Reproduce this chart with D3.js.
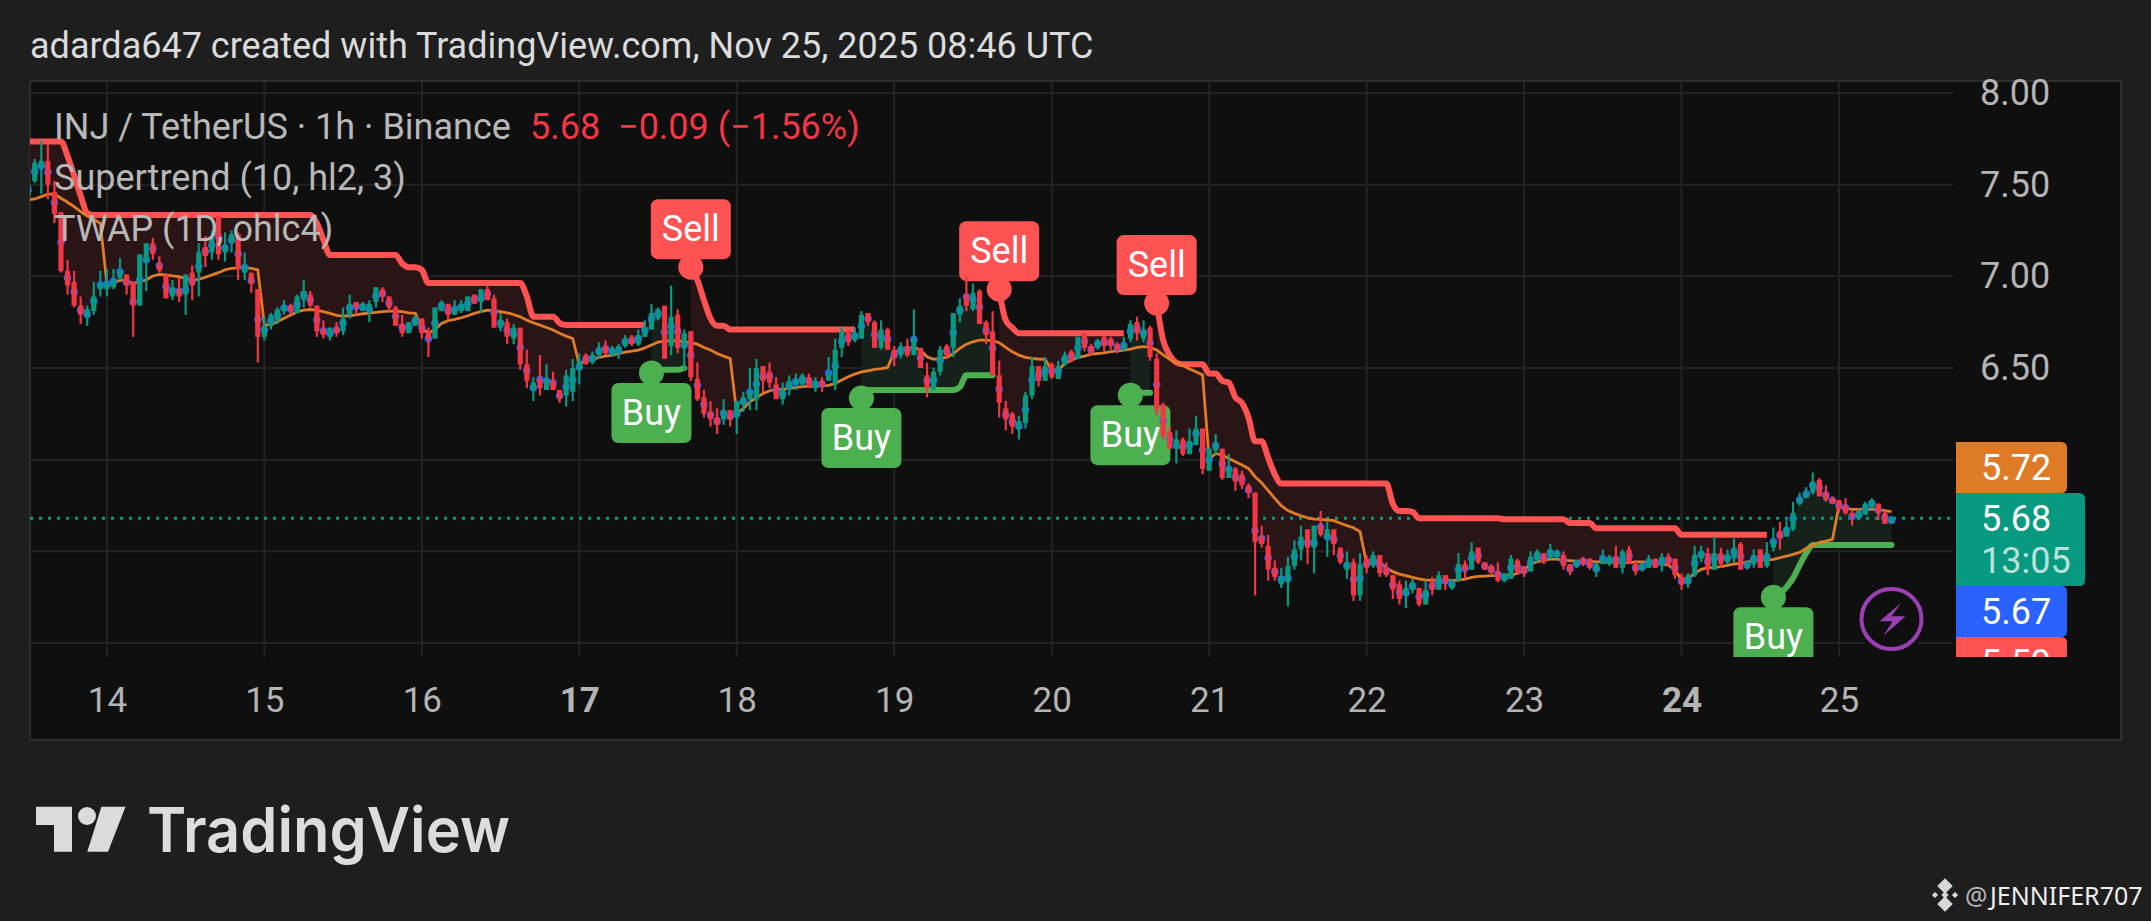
<!DOCTYPE html>
<html><head><meta charset="utf-8">
<script src="https://cdn.jsdelivr.net/npm/d3@7/dist/d3.min.js"></script>
<style>html,body{margin:0;padding:0;background:#1e1e1e}svg{display:block}text{font-family:Roboto,sans-serif}</style>
</head><body><svg id="c" width="2151" height="921"></svg>
<script>
// hourly bars, hour 0 = Nov 14 00:00 UTC, first bar at hour -12
const firstHour = -12;
const opens = [7.44,7.52,7.59,7.63,7.46,7.35,7.03,6.97,6.84,6.78,6.81,6.93,
6.93,6.94,6.99,7.01,6.97,6.84,7.08,7.18,7.07,7.01,
6.89,6.93,6.90,7.02,7.02,7.16,7.13,7.33,7.13,7.18,
7.23,7.02,7.02,6.93,6.67,6.73,6.76,6.81,6.84,6.80,
6.87,6.90,6.84,6.71,6.67,6.72,6.70,6.79,6.86,6.81,
6.81,6.86,6.93,6.89,6.83,6.74,6.69,6.73,6.77,6.70,
6.66,6.81,6.85,6.79,6.81,6.81,6.90,6.86,6.93,6.88,
6.72,6.75,6.66,6.72,6.52,6.38,6.44,6.38,6.43,6.38,
6.35,6.37,6.49,6.57,6.53,6.57,6.62,6.57,6.58,6.62,
6.67,6.63,6.67,6.71,6.77,6.84,6.62,6.79,6.61,6.70,
6.44,6.34,6.26,6.23,6.22,6.27,6.23,6.30,6.33,6.33,
6.51,6.48,6.41,6.33,6.38,6.41,6.41,6.45,6.39,6.43,
6.43,6.41,6.61,6.69,6.65,6.66,6.80,6.75,6.61,6.71,
6.60,6.57,6.62,6.57,6.61,6.46,6.38,6.48,6.62,6.61,
6.79,6.90,6.82,6.92,6.75,6.70,6.46,6.28,6.25,6.17,
6.20,6.35,6.51,6.43,6.52,6.44,6.52,6.59,6.55,6.69,
6.62,6.61,6.67,6.66,6.63,6.60,6.66,6.75,6.66,6.72,
6.55,6.30,6.15,6.06,6.11,6.03,6.08,6.17,5.94,6.05,
6.06,5.90,5.95,5.92,5.86,5.82,5.58,5.53,5.41,5.32,
5.33,5.42,5.51,5.62,5.52,5.64,5.57,5.62,5.52,5.40,
5.44,5.26,5.46,5.42,5.48,5.41,5.37,5.32,5.26,5.29,
5.30,5.21,5.33,5.29,5.37,5.30,5.34,5.43,5.40,5.52,
5.44,5.42,5.39,5.34,5.35,5.45,5.42,5.39,5.45,5.49,
5.46,5.47,5.48,5.43,5.42,5.46,5.46,5.39,5.43,5.43,
5.47,5.41,5.51,5.43,5.40,5.41,5.46,5.42,5.47,5.46,
5.36,5.32,5.37,5.46,5.49,5.40,5.49,5.44,5.46,5.54,
5.41,5.43,5.51,5.42,5.52,5.61,5.58,5.62,5.76,5.79,
5.82,5.89,5.82,5.79,5.78,5.75,5.71,5.68,5.70,5.74,
5.76,5.71,5.66];
const highs = [7.53,7.64,7.74,7.72,7.52,7.35,7.09,7.03,6.89,6.84,6.97,7.03,
7.04,7.04,7.10,7.01,6.97,7.12,7.18,7.21,7.11,7.01,
6.98,6.99,7.01,7.06,7.18,7.22,7.25,7.33,7.24,7.25,
7.24,7.13,7.02,6.93,6.78,6.80,6.83,6.87,6.85,6.90,
6.98,6.92,6.84,6.76,6.72,6.75,6.83,6.90,6.86,6.86,
6.87,6.94,6.94,6.89,6.84,6.79,6.75,6.78,6.77,6.72,
6.83,6.87,6.85,6.87,6.87,6.89,6.90,6.93,6.95,6.90,
6.80,6.77,6.74,6.72,6.60,6.45,6.57,6.52,6.48,6.38,
6.49,6.55,6.58,6.58,6.59,6.64,6.65,6.62,6.63,6.68,
6.68,6.71,6.76,6.85,6.83,6.84,6.95,6.82,6.71,6.70,
6.53,6.38,6.32,6.28,6.33,6.27,6.32,6.37,6.50,6.55,
6.51,6.53,6.45,6.42,6.46,6.47,6.47,6.47,6.45,6.45,
6.56,6.66,6.72,6.71,6.72,6.81,6.80,6.76,6.76,6.72,
6.62,6.64,6.66,6.82,6.61,6.53,6.50,6.62,6.63,6.80,
6.88,7.00,6.96,6.93,6.76,6.81,6.54,6.32,6.26,6.24,
6.37,6.56,6.51,6.56,6.53,6.54,6.59,6.60,6.67,6.69,
6.63,6.66,6.68,6.67,6.64,6.67,6.76,6.78,6.76,6.73,
6.58,6.31,6.18,6.16,6.12,6.17,6.24,6.17,6.06,6.14,
6.06,6.03,5.96,5.94,5.87,5.82,5.64,5.59,5.45,5.41,
5.47,5.56,5.64,5.62,5.64,5.72,5.66,5.62,5.52,5.50,
5.46,5.49,5.48,5.50,5.48,5.44,5.37,5.34,5.34,5.35,
5.30,5.34,5.36,5.39,5.37,5.35,5.49,5.45,5.55,5.52,
5.44,5.43,5.44,5.38,5.48,5.46,5.42,5.50,5.51,5.49,
5.54,5.51,5.50,5.43,5.45,5.47,5.46,5.44,5.51,5.48,
5.53,5.51,5.53,5.45,5.44,5.48,5.46,5.49,5.49,5.46,
5.38,5.38,5.53,5.53,5.52,5.58,5.52,5.51,5.57,5.55,
5.45,5.51,5.51,5.55,5.63,5.66,5.67,5.77,5.82,5.85,
5.93,5.90,5.86,5.80,5.78,5.79,5.72,5.73,5.77,5.79,
5.76,5.72,5.69];
const lows = [7.41,7.51,7.45,7.42,7.29,7.02,6.90,6.83,6.74,6.73,6.79,6.89,
6.89,6.93,6.98,6.90,6.67,6.84,6.92,7.09,7.02,6.88,
6.87,6.86,6.79,6.87,6.89,7.05,7.09,7.09,7.08,7.13,
6.98,6.98,6.91,6.53,6.65,6.71,6.74,6.79,6.79,6.80,
6.83,6.83,6.67,6.66,6.65,6.67,6.68,6.77,6.79,6.81,
6.75,6.83,6.86,6.81,6.73,6.67,6.69,6.73,6.66,6.56,
6.66,6.81,6.76,6.79,6.80,6.81,6.85,6.80,6.87,6.72,
6.70,6.63,6.63,6.49,6.39,6.32,6.35,6.38,6.38,6.31,
6.29,6.32,6.41,6.52,6.52,6.55,6.57,6.56,6.55,6.61,
6.62,6.62,6.67,6.71,6.76,6.55,6.57,6.58,6.49,6.43,
6.32,6.23,6.18,6.14,6.19,6.18,6.14,6.26,6.27,6.27,
6.37,6.39,6.33,6.30,6.35,6.38,6.40,6.39,6.37,6.37,
6.43,6.38,6.56,6.62,6.64,6.66,6.73,6.61,6.60,6.60,
6.51,6.55,6.56,6.57,6.50,6.34,6.38,6.46,6.55,6.56,
6.75,6.81,6.81,6.74,6.63,6.46,6.23,6.16,6.14,6.11,
6.17,6.33,6.40,6.43,6.44,6.44,6.51,6.53,6.55,6.59,
6.57,6.60,6.59,6.60,6.58,6.59,6.64,6.65,6.64,6.54,
6.24,6.11,6.06,5.98,6.02,6.03,6.08,5.92,5.94,6.03,
5.89,5.90,5.83,5.84,5.79,5.26,5.52,5.34,5.34,5.30,
5.20,5.40,5.45,5.43,5.38,5.58,5.47,5.48,5.43,5.35,
5.23,5.23,5.38,5.41,5.36,5.36,5.24,5.21,5.19,5.27,
5.20,5.21,5.26,5.29,5.29,5.29,5.34,5.35,5.40,5.43,
5.40,5.38,5.33,5.33,5.35,5.38,5.36,5.39,5.44,5.43,
5.46,5.46,5.40,5.37,5.41,5.42,5.40,5.36,5.43,5.42,
5.41,5.38,5.43,5.37,5.39,5.41,5.41,5.39,5.42,5.35,
5.29,5.30,5.36,5.44,5.37,5.40,5.41,5.43,5.44,5.40,
5.40,5.41,5.41,5.41,5.50,5.51,5.58,5.61,5.75,5.79,
5.81,5.80,5.77,5.76,5.71,5.70,5.64,5.67,5.70,5.73,
5.67,5.65,5.65];
const closes = [7.50,7.62,7.63,7.50,7.34,7.03,6.95,6.84,6.79,6.82,6.89,6.96,
6.97,6.98,7.03,6.95,6.84,7.12,7.18,7.12,7.03,6.88,
6.94,6.89,7.01,6.95,7.13,7.11,7.21,7.12,7.17,7.23,
7.04,7.06,6.96,6.67,6.73,6.79,6.82,6.84,6.81,6.89,
6.92,6.84,6.70,6.68,6.72,6.69,6.77,6.85,6.83,6.85,
6.85,6.94,6.89,6.83,6.73,6.69,6.75,6.78,6.69,6.66,
6.83,6.86,6.79,6.83,6.85,6.89,6.85,6.93,6.87,6.72,
6.76,6.67,6.72,6.52,6.43,6.42,6.39,6.44,6.38,6.33,
6.46,6.50,6.54,6.52,6.57,6.61,6.58,6.61,6.62,6.66,
6.63,6.68,6.72,6.80,6.82,6.55,6.78,6.61,6.69,6.45,
6.33,6.25,6.22,6.19,6.27,6.22,6.32,6.34,6.37,6.50,
6.43,6.42,6.33,6.38,6.43,6.44,6.46,6.40,6.43,6.40,
6.47,6.60,6.70,6.64,6.69,6.79,6.75,6.61,6.71,6.60,
6.56,6.62,6.57,6.66,6.50,6.39,6.48,6.60,6.57,6.80,
6.84,6.84,6.91,6.74,6.68,6.46,6.31,6.22,6.18,6.21,
6.35,6.51,6.43,6.51,6.45,6.51,6.57,6.54,6.67,6.61,
6.58,6.65,6.62,6.62,6.60,6.63,6.74,6.69,6.71,6.56,
6.27,6.13,6.06,6.11,6.03,6.10,6.17,5.95,6.06,6.09,
5.90,5.96,5.88,5.86,5.82,5.55,5.54,5.40,5.36,5.36,
5.42,5.51,5.58,5.52,5.64,5.59,5.62,5.54,5.44,5.44,
5.26,5.43,5.41,5.48,5.38,5.37,5.29,5.24,5.30,5.33,
5.21,5.29,5.29,5.37,5.33,5.34,5.43,5.40,5.50,5.44,
5.40,5.38,5.34,5.38,5.46,5.38,5.38,5.47,5.50,5.44,
5.51,5.50,5.42,5.39,5.45,5.43,5.41,5.43,5.47,5.47,
5.41,5.50,5.43,5.39,5.43,5.46,5.41,5.47,5.43,5.37,
5.32,5.37,5.48,5.50,5.40,5.49,5.43,5.48,5.52,5.40,
5.44,5.48,5.41,5.49,5.56,5.57,5.63,5.71,5.79,5.82,
5.88,5.80,5.78,5.76,5.73,5.71,5.69,5.72,5.76,5.78,
5.71,5.65,5.68];
const twap = [7.417,7.422,7.435,7.448,7.449,7.426,7.404,7.38,7.353,7.329,7.311,7.289,
6.959,6.962,6.98,6.977,6.962,6.971,6.98,7.002,7.011,7.008,7.002,6.998,6.989,6.98,6.984,6.995,7.008,7.02,7.035,7.044,7.046,7.048,7.044,7.035,
6.735,6.735,6.753,6.771,6.789,6.807,6.816,6.819,6.816,6.807,6.798,6.787,6.783,6.785,6.79,6.796,6.799,6.803,6.807,6.81,6.81,6.807,6.801,6.798,
6.716,6.689,6.71,6.743,6.758,6.765,6.774,6.785,6.798,6.807,6.816,6.812,6.807,6.801,6.792,6.779,6.761,6.747,6.734,6.721,6.707,6.689,6.674,6.661,
6.519,6.543,6.547,6.558,6.565,6.57,6.579,6.587,6.592,6.598,6.61,6.625,6.641,6.647,6.649,6.649,6.643,6.638,6.63,6.612,6.598,6.579,6.565,6.552,
6.252,6.279,6.316,6.339,6.361,6.376,6.383,6.383,6.389,6.394,6.398,6.401,6.401,6.403,6.405,6.416,6.434,6.452,6.467,6.479,6.485,6.492,6.496,6.503,
6.589,6.598,6.607,6.612,6.598,6.561,6.547,6.552,6.558,6.579,6.607,6.63,6.643,6.652,6.652,6.649,6.638,6.612,6.589,6.57,6.558,6.552,6.549,6.547,
6.489,6.489,6.525,6.543,6.558,6.565,6.576,6.579,6.583,6.589,6.593,6.598,6.603,6.612,6.616,6.612,6.598,6.571,6.547,6.529,6.513,6.494,6.48,6.462,
6.002,6.034,6.025,6.007,5.989,5.971,5.952,5.907,5.874,5.831,5.789,5.749,5.722,5.707,5.694,5.683,5.676,5.674,5.671,5.667,5.653,5.64,5.629,5.607,
5.434,5.443,5.438,5.41,5.389,5.376,5.367,5.358,5.35,5.343,5.343,5.341,5.341,5.341,5.343,5.349,5.358,5.363,5.365,5.367,5.367,5.367,5.371,5.38,
5.398,5.431,5.443,5.452,5.458,5.458,5.452,5.449,5.447,5.447,5.445,5.443,5.443,5.443,5.44,5.438,5.438,5.443,5.443,5.438,5.434,5.431,5.425,5.398,
5.343,5.352,5.38,5.402,5.411,5.413,5.416,5.423,5.431,5.434,5.442,5.447,5.453,5.453,5.456,5.465,5.474,5.483,5.494,5.516,5.534,5.549,5.556,5.565,
5.749,5.734,5.729,5.729,5.729,5.731,5.729,5.722,5.716];
// supertrend runs: first hour of the run, then one value per hour
const downStarts = [-12,89,136,160];
const downRuns = [
 [7.735,7.735,7.735,7.735,7.735,7.735,7.656,7.55,7.44,7.345,
  7.334,7.334,7.334,7.334,7.334,7.334,7.334,7.334,7.334,7.334,7.334,7.334,7.334,7.334,7.334,7.334,7.334,7.334,7.334,7.334,7.334,7.334,7.334,7.334,7.334,7.334,7.334,7.334,7.334,7.334,7.334,7.334,7.334,7.334,
  7.29,7.2,7.116,7.116,7.116,7.116,7.116,7.116,7.116,7.116,7.116,7.116,7.116,7.07,7.05,7.05,7.035,
  6.963,6.963,6.963,6.963,6.963,6.963,6.963,6.963,6.963,6.963,6.963,6.963,6.963,6.963,6.963,
  6.89,6.78,6.78,6.78,6.78,6.745,6.734,6.734,6.734,6.734,6.734,6.734,6.734,6.734,6.734,6.734,6.734,6.734,6.734],
 [7.05,6.98,6.87,6.77,6.73,6.73,6.71,6.71,6.71,6.71,6.71,6.71,6.71,6.71,6.71,6.71,6.71,6.71,6.71,6.71,6.71,6.71,6.71,6.71,6.71,6.71],
 [6.925,6.76,6.72,6.69,6.69,6.69,6.69,6.69,6.69,6.69,6.69,6.69,6.69,6.69,6.69,6.69,6.69,6.69,6.69,6.69],
 [6.854,6.65,6.57,6.53,6.52,6.52,6.52,6.52,6.47,6.47,6.43,6.42,6.34,6.31,6.23,6.10,6.10,6.01,5.92,
  5.87,5.87,5.87,5.87,5.87,5.87,5.87,5.87,5.87,5.87,5.87,5.87,5.87,5.87,5.87,5.87,5.87,
  5.76,5.72,5.72,5.715,5.68,5.68,5.68,5.68,5.68,5.68,5.68,5.68,5.68,5.68,5.68,5.68,5.68,
  5.675,5.675,5.675,5.675,5.675,5.675,5.675,5.675,5.675,5.675,5.655,5.655,5.655,5.655,
  5.626,5.626,5.626,5.626,5.626,5.626,5.626,5.626,5.626,5.626,5.626,5.626,5.626,
  5.59,5.59,5.59,5.59,5.59,5.59,5.59,5.59,5.59,5.59,5.59,5.59,5.59,5.59]
];
const upStarts = [83,115,156,254];
const upRuns = [
 [6.475,6.485,6.49,6.49,6.49,6.50],
 [6.36,6.38,6.38,6.38,6.38,6.38,6.38,6.38,6.38,6.38,6.38,6.38,6.38,6.38,6.38,6.396,6.46,6.46,6.46,6.46,6.46],
 [6.36,6.365,6.365,6.365],
 [5.25,5.27,5.305,5.354,5.425,5.49,5.534,5.534,5.534,5.534,5.534,5.534,5.534,5.534,5.534,5.534,5.534,5.534,5.534]
];
const sellHours = [89,136,160], sellPrices = [7.05,6.93,6.854];
const buyHours = [83,115,156,254], buyPrices = [6.473,6.336,6.352,5.25];
const dayLabels = ['14','15','16','17','18','19','20','21','22','23','24','25'];
const boldDays = ['17','24'];
const priceTicks = [8,7.5,7,6.5,6,5.5,5];
const priceLabels = [8,7.5,7,6.5];
const lastClose = 5.68;
const tagValues = [['5.72','#DF7A27',442,493,2067,480],['5.67','#2962FF',586,637,2067,624],['5.59','#FF5252',637,690,2067,675]];

const up='#089981', down='#F23645', redLine='#FF5252', greenLine='#4CAF50', orange='#E07C27', blue='#2962FF';
const svg=d3.select('#c');
const hours=opens.map((_,i)=>firstHour+i);
const bars=hours.map((h,i)=>({h,o:opens[i],hi:highs[i],lo:lows[i],c:closes[i],t:twap[i]}));
const barAt=new Map(bars.map(b=>[b.h,b]));
const x=d3.scaleLinear().domain([0,264]).range([106.9,1839]);
const y=d3.scaleLinear().domain([5,8]).range([643,93]);
const paneL=30,paneR=1953,paneT=82,paneB=657;

svg.append('rect').attr('width',2151).attr('height',921).attr('fill','#1e1e1e');
svg.append('rect').attr('x',30).attr('y',81).attr('width',2091).attr('height',659).attr('fill','#0f0f0f').attr('stroke','#2e2e2e').attr('stroke-width',2);
const defs=svg.append('defs');
defs.append('clipPath').attr('id','pane').append('rect').attr('x',paneL).attr('y',paneT).attr('width',paneR-paneL).attr('height',paneB-paneT);
defs.append('clipPath').attr('id','scale').append('rect').attr('x',paneR).attr('y',paneT).attr('width',168).attr('height',paneB-paneT);

const tickHours=dayLabels.map((_,i)=>i*24);
// grid
const grid=svg.append('g').attr('clip-path','url(#pane)');
grid.selectAll('.v').data(tickHours).join('line').attr('x1',d=>x(d)).attr('x2',d=>x(d)).attr('y1',paneT).attr('y2',paneB).attr('stroke','#232323').attr('stroke-width',2);
grid.selectAll('.h').data(priceTicks).join('line').attr('x1',paneL).attr('x2',paneR).attr('y1',d=>y(d)).attr('y2',d=>y(d)).attr('stroke','#232323').attr('stroke-width',2);

const chart=svg.append('g').attr('clip-path','url(#pane)');
// supertrend fills + lines
function runs(starts,vals){return vals.map((v,k)=>v.map((p,i)=>({h:starts[k]+i,p})));}
const lineGen=d3.line().x(d=>x(d.h)).y(d=>y(d.p)).curve(d3.curveMonotoneX);
const areaGen=d3.area().x(d=>x(d.h)).y0(d=>y(d.p)).y1(d=>{const b=barAt.get(d.h);return y((b.o+b.c)/2);}).curve(d3.curveMonotoneX);
const dn=runs(downStarts,downRuns), upr=runs(upStarts,upRuns);
chart.selectAll('.fd').data(dn).join('path').attr('d',areaGen).attr('fill','#2a1516');
chart.selectAll('.fu').data(upr).join('path').attr('d',areaGen).attr('fill','#16211a');
// last price line
chart.append('line').attr('x1',paneL).attr('x2',paneR).attr('y1',y(lastClose)).attr('y2',y(lastClose)).attr('stroke',up).attr('stroke-width',3).attr('stroke-dasharray','3 6');
chart.selectAll('.ld').data(dn).join('path').attr('d',lineGen).attr('fill','none').attr('stroke',redLine).attr('stroke-width',6).attr('stroke-linejoin','round');
chart.selectAll('.lu').data(upr).join('path').attr('d',lineGen).attr('fill','none').attr('stroke',greenLine).attr('stroke-width',6).attr('stroke-linejoin','round').attr('stroke-linecap','round');
// markers
function marker(h,p,txt,col,isSell){
  const g=chart.append('g').attr('transform',`translate(${x(h)},${y(p)})`);
  g.append('circle').attr('r',12.5).attr('fill',col);
  const top=isSell?-68:10;
  g.append('rect').attr('x',-40).attr('y',top).attr('width',80).attr('height',60).attr('rx',7).attr('fill',col);
  g.append('text').attr('y',top+42).attr('text-anchor','middle').attr('font-size',36).attr('fill','#fff').text(txt);
}
sellHours.forEach((h,i)=>marker(h,sellPrices[i],'Sell',redLine,true));
buyHours.forEach((h,i)=>marker(h,buyPrices[i],'Buy',greenLine,false));
// twap
chart.append('path').datum(bars).attr('d',d3.line().x(d=>x(d.h)).y(d=>y(d.t))).attr('fill','none').attr('stroke',orange).attr('stroke-width',2.8);
// ohlc4 dots
chart.selectAll('.dot').data(bars).join('circle').attr('cx',d=>x(d.h)).attr('cy',d=>y((d.o+d.hi+d.lo+d.c)/4)).attr('r',3.8).attr('fill',blue);
// candles
const col=d=>d.c>=d.o?up:down;
chart.selectAll('.w').data(bars).join('line').attr('x1',d=>x(d.h)).attr('x2',d=>x(d.h)).attr('y1',d=>y(d.hi)).attr('y2',d=>y(d.lo)).attr('stroke',col).attr('stroke-width',2.2);
chart.selectAll('.b').data(bars).join('rect').attr('x',d=>x(d.h)-2.6).attr('width',5.2).attr('y',d=>y(Math.max(d.o,d.c))).attr('height',d=>Math.max(1,Math.abs(y(d.o)-y(d.c)))).attr('fill',col);

// bolt
const bolt=chart.append('g').attr('transform',`translate(${x(272)},619)`);
bolt.append('circle').attr('r',36).attr('fill','#0f0f0f');
bolt.append('circle').attr('r',30).attr('fill','none').attr('stroke','#9C3FB5').attr('stroke-width',4);
bolt.append('path').attr('d','M9.6,-16 L-12,2.3 L1,2.3 L-8,16.7 L14,-2.7 L0,-2.7 Z').attr('fill','#9C3FB5');

// axes
const xAxis=d3.axisBottom(x).tickValues(tickHours).tickFormat((d,i)=>dayLabels[i]).tickSize(0);
const gx=svg.append('g').attr('transform','translate(0,676)').call(xAxis);
gx.select('.domain').remove();
gx.selectAll('text').attr('font-size',35).attr('fill','#b4b4b4').attr('dy','0.71em').attr('y',11)
  .attr('font-weight',(d,i)=>boldDays.includes(dayLabels[i])?700:400).style('font-family','Roboto');
const yAxis=d3.axisRight(y).tickValues(priceLabels).tickFormat(d3.format('.2f')).tickSize(0);
const gy=svg.append('g').attr('transform','translate(1980,0)').call(yAxis);
gy.select('.domain').remove();
gy.selectAll('text').attr('x',0).attr('font-size',36).attr('fill','#b4b4b4').style('font-family','Roboto');

// price tags
const tags=svg.append('g').attr('clip-path','url(#scale)');
function tagBox(x0,y0,x1,y1,fill){
  const r=6;
  tags.append('path').attr('d',`M${x0},${y0}H${x1-r}Q${x1},${y0} ${x1},${y0+r}V${y1-r}Q${x1},${y1} ${x1-r},${y1}H${x0}Z`).attr('fill',fill);
}
tagValues.forEach(t=>{tagBox(1956,t[2],t[4],t[3],t[1]);
  tags.append('text').attr('x',1981).attr('y',t[5]).attr('font-size',36).attr('fill','#fff').text(t[0]);});
tagBox(1956,493,2085,586,up);
tags.append('text').attr('x',1981).attr('y',531).attr('font-size',36).attr('fill','#fff').text('5.68');
tags.append('text').attr('x',1981).attr('y',573).attr('font-size',36).attr('fill','rgba(255,255,255,0.72)').text('13:05');

// legend
const lg=svg.append('g').attr('font-size',36);
lg.append('text').attr('x',54).attr('y',139).attr('fill','#b8b8b8').text('INJ / TetherUS · 1h · Binance');
lg.append('text').attr('x',530).attr('y',139).attr('fill',down).attr('xml:space','preserve').style('white-space','pre').text('5.68  −0.09 (−1.56%)');
lg.append('text').attr('x',54).attr('y',190).attr('fill','#b8b8b8').text('Supertrend (10, hl2, 3)');
lg.append('text').attr('x',54).attr('y',241).attr('fill','#b8b8b8').text('TWAP (1D, ohlc4)');

// header
svg.append('text').attr('x',30).attr('y',58).attr('font-size',36).attr('fill','#dbdbdb').text('adarda647 created with TradingView.com, Nov 25, 2025 08:46 UTC');

// logo
const logo=svg.append('g').attr('fill','#dcdcdc');
logo.append('path').attr('d','M36,806.7H72V851.7H54V825H36Z');
logo.append('circle').attr('cx',87).attr('cy',816).attr('r',9);
logo.append('path').attr('d','M101.4,806.7H125.5L108,851.7H87.3Z');
logo.append('text').attr('x',147).attr('y',851.7).attr('font-size',62).attr('font-weight',600).style('font-family','Inter').attr('textLength',363).attr('lengthAdjust','spacingAndGlyphs').text('TradingView');

// watermark
const wm=svg.append('g').attr('transform','translate(1945,895)').attr('fill','#d8d8d8');
[[0,-9,5.5],[0,9,5.5],[-10,0,2.2],[10,0,2.2],[0,0,2.6]].forEach(d=>{
  wm.append('rect').attr('x',d[0]-d[2]).attr('y',d[1]-d[2]).attr('width',2*d[2]).attr('height',2*d[2]).attr('transform',`rotate(45 ${d[0]} ${d[1]})`);
});
svg.append('text').attr('x',1965).attr('y',905).attr('font-size',25).attr('fill','#b8b8b8').style('font-family','Noto Sans').text('@');
svg.append('text').attr('x',1990).attr('y',905).attr('font-size',25).attr('fill','#eee').style('font-family','Noto Sans').text('JENNIFER707');
</script></body></html>
